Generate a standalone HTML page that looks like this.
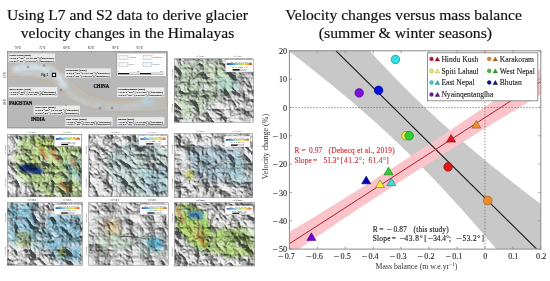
<!DOCTYPE html>
<html><head><meta charset="utf-8"><title>Glacier velocity changes</title>
<style>
html,body{margin:0;padding:0;background:#fff;}
body{width:550px;height:281px;overflow:hidden;}
svg{display:block;}
text{font-family:"Liberation Serif","Times New Roman",serif;}
.tt{font-size:15.6px;fill:#111;stroke:#111;stroke-width:0.18px;}
.tk{font-size:8.2px;fill:#2a2a2a;stroke:#2a2a2a;stroke-width:0.12px;}
.lg{font-size:7.6px;fill:#222;stroke:#222;stroke-width:0.12px;}
.an{font-size:7.4px;}
</style></head><body>
<svg width="550" height="281" viewBox="0 0 550 281">
<rect width="550" height="281" fill="#fff"/>
<text class="tt" x="127.5" y="19.5" text-anchor="middle" textLength="241" lengthAdjust="spacingAndGlyphs">Using L7 and S2 data to derive glacier</text>
<text class="tt" x="127.5" y="38.4" text-anchor="middle" textLength="213.5" lengthAdjust="spacingAndGlyphs">velocity changes in the Himalayas</text>
<text class="tt" x="403.6" y="20.2" text-anchor="middle" textLength="236.8" lengthAdjust="spacingAndGlyphs">Velocity changes versus mass balance</text>
<text class="tt" x="405.4" y="38.2" text-anchor="middle" textLength="173.2" lengthAdjust="spacingAndGlyphs">(summer &amp; winter seasons)</text>
<defs>
<filter id="pt0" x="-20%" y="-20%" width="140%" height="140%" color-interpolation-filters="sRGB">
<feTurbulence type="fractalNoise" baseFrequency="0.12" numOctaves="3" seed="3" result="t"/>
<feComponentTransfer in="t" result="m"><feFuncA type="table" tableValues="0 0.2 0.8 1 1 1"/></feComponentTransfer>
<feGaussianBlur in="SourceGraphic" stdDeviation="2.2" result="b"/>
<feComposite in="b" in2="m" operator="in"/>
</filter>
<filter id="pt1" x="-20%" y="-20%" width="140%" height="140%" color-interpolation-filters="sRGB">
<feTurbulence type="fractalNoise" baseFrequency="0.12" numOctaves="3" seed="8" result="t"/>
<feComponentTransfer in="t" result="m"><feFuncA type="table" tableValues="0 0.2 0.8 1 1 1"/></feComponentTransfer>
<feGaussianBlur in="SourceGraphic" stdDeviation="2.2" result="b"/>
<feComposite in="b" in2="m" operator="in"/>
</filter>
<filter id="pt2" x="-20%" y="-20%" width="140%" height="140%" color-interpolation-filters="sRGB">
<feTurbulence type="fractalNoise" baseFrequency="0.12" numOctaves="3" seed="14" result="t"/>
<feComponentTransfer in="t" result="m"><feFuncA type="table" tableValues="0 0.2 0.8 1 1 1"/></feComponentTransfer>
<feGaussianBlur in="SourceGraphic" stdDeviation="2.2" result="b"/>
<feComposite in="b" in2="m" operator="in"/>
</filter>
<filter id="pt3" x="-20%" y="-20%" width="140%" height="140%" color-interpolation-filters="sRGB">
<feTurbulence type="fractalNoise" baseFrequency="0.12" numOctaves="3" seed="21" result="t"/>
<feComponentTransfer in="t" result="m"><feFuncA type="table" tableValues="0 0.2 0.8 1 1 1"/></feComponentTransfer>
<feGaussianBlur in="SourceGraphic" stdDeviation="2.2" result="b"/>
<feComposite in="b" in2="m" operator="in"/>
</filter>
<filter id="bl1" x="-30%" y="-30%" width="160%" height="160%"><feGaussianBlur stdDeviation="1.6"/></filter>
<filter id="bl2" x="-30%" y="-30%" width="160%" height="160%"><feGaussianBlur stdDeviation="0.8"/></filter>
<linearGradient id="cbar" x1="0" x2="1" y1="0" y2="0"><stop offset="0" stop-color="#1f3f9f"/><stop offset="0.22" stop-color="#3a8fd0"/><stop offset="0.4" stop-color="#8fd0d0"/><stop offset="0.55" stop-color="#a8d860"/><stop offset="0.72" stop-color="#f0e040"/><stop offset="0.86" stop-color="#f09030"/><stop offset="1" stop-color="#d03020"/></linearGradient>
<filter id="hs1" x="0" y="0" width="1" height="1" color-interpolation-filters="sRGB">
<feTurbulence type="turbulence" baseFrequency="0.055" numOctaves="5" seed="11" result="n"/>
<feTurbulence type="turbulence" baseFrequency="0.0220" numOctaves="3" seed="111" result="nb"/>
<feComposite in="n" in2="nb" operator="arithmetic" k1="0" k2="0.55" k3="0.6" k4="0" result="nm"/>
<feComponentTransfer in="nm" result="n2"><feFuncA type="table" tableValues="1 0"/></feComponentTransfer>
<feDiffuseLighting in="n2" surfaceScale="7" diffuseConstant="1" lighting-color="#fff"><feDistantLight azimuth="315" elevation="38"/></feDiffuseLighting>
<feConvolveMatrix order="3" kernelMatrix="0 -0.35 0 -0.35 2.4 -0.35 0 -0.35 0" divisor="1" edgeMode="duplicate" preserveAlpha="true"/>
<feComponentTransfer><feFuncR type="gamma" amplitude="0.66" exponent="0.8" offset="0.3"/><feFuncG type="gamma" amplitude="0.66" exponent="0.8" offset="0.3"/><feFuncB type="gamma" amplitude="0.66" exponent="0.8" offset="0.3"/></feComponentTransfer>
</filter>
<clipPath id="cp1"><rect x="174.2" y="58.8" width="79.40" height="63.50"/></clipPath>
<filter id="hs2" x="0" y="0" width="1" height="1" color-interpolation-filters="sRGB">
<feTurbulence type="turbulence" baseFrequency="0.055" numOctaves="5" seed="23" result="n"/>
<feTurbulence type="turbulence" baseFrequency="0.0220" numOctaves="3" seed="123" result="nb"/>
<feComposite in="n" in2="nb" operator="arithmetic" k1="0" k2="0.55" k3="0.6" k4="0" result="nm"/>
<feComponentTransfer in="nm" result="n2"><feFuncA type="table" tableValues="1 0"/></feComponentTransfer>
<feDiffuseLighting in="n2" surfaceScale="7" diffuseConstant="1" lighting-color="#fff"><feDistantLight azimuth="315" elevation="38"/></feDiffuseLighting>
<feConvolveMatrix order="3" kernelMatrix="0 -0.35 0 -0.35 2.4 -0.35 0 -0.35 0" divisor="1" edgeMode="duplicate" preserveAlpha="true"/>
<feComponentTransfer><feFuncR type="gamma" amplitude="0.66" exponent="0.8" offset="0.3"/><feFuncG type="gamma" amplitude="0.66" exponent="0.8" offset="0.3"/><feFuncB type="gamma" amplitude="0.66" exponent="0.8" offset="0.3"/></feComponentTransfer>
</filter>
<clipPath id="cp2"><rect x="7.5" y="134.2" width="74.30" height="62.70"/></clipPath>
<filter id="hs3" x="0" y="0" width="1" height="1" color-interpolation-filters="sRGB">
<feTurbulence type="turbulence" baseFrequency="0.055" numOctaves="5" seed="37" result="n"/>
<feTurbulence type="turbulence" baseFrequency="0.0220" numOctaves="3" seed="137" result="nb"/>
<feComposite in="n" in2="nb" operator="arithmetic" k1="0" k2="0.55" k3="0.6" k4="0" result="nm"/>
<feComponentTransfer in="nm" result="n2"><feFuncA type="table" tableValues="1 0"/></feComponentTransfer>
<feDiffuseLighting in="n2" surfaceScale="7" diffuseConstant="1" lighting-color="#fff"><feDistantLight azimuth="315" elevation="38"/></feDiffuseLighting>
<feConvolveMatrix order="3" kernelMatrix="0 -0.35 0 -0.35 2.4 -0.35 0 -0.35 0" divisor="1" edgeMode="duplicate" preserveAlpha="true"/>
<feComponentTransfer><feFuncR type="gamma" amplitude="0.66" exponent="0.8" offset="0.3"/><feFuncG type="gamma" amplitude="0.66" exponent="0.8" offset="0.3"/><feFuncB type="gamma" amplitude="0.66" exponent="0.8" offset="0.3"/></feComponentTransfer>
</filter>
<clipPath id="cp3"><rect x="88.8" y="134.8" width="79.20" height="62.00"/></clipPath>
<filter id="hs4" x="0" y="0" width="1" height="1" color-interpolation-filters="sRGB">
<feTurbulence type="turbulence" baseFrequency="0.055" numOctaves="5" seed="41" result="n"/>
<feTurbulence type="turbulence" baseFrequency="0.0220" numOctaves="3" seed="141" result="nb"/>
<feComposite in="n" in2="nb" operator="arithmetic" k1="0" k2="0.55" k3="0.6" k4="0" result="nm"/>
<feComponentTransfer in="nm" result="n2"><feFuncA type="table" tableValues="1 0"/></feComponentTransfer>
<feDiffuseLighting in="n2" surfaceScale="7" diffuseConstant="1" lighting-color="#fff"><feDistantLight azimuth="315" elevation="38"/></feDiffuseLighting>
<feConvolveMatrix order="3" kernelMatrix="0 -0.35 0 -0.35 2.4 -0.35 0 -0.35 0" divisor="1" edgeMode="duplicate" preserveAlpha="true"/>
<feComponentTransfer><feFuncR type="gamma" amplitude="0.66" exponent="0.8" offset="0.3"/><feFuncG type="gamma" amplitude="0.66" exponent="0.8" offset="0.3"/><feFuncB type="gamma" amplitude="0.66" exponent="0.8" offset="0.3"/></feComponentTransfer>
</filter>
<clipPath id="cp4"><rect x="174.4" y="133.6" width="78.40" height="64.20"/></clipPath>
<filter id="hs5" x="0" y="0" width="1" height="1" color-interpolation-filters="sRGB">
<feTurbulence type="turbulence" baseFrequency="0.055" numOctaves="5" seed="53" result="n"/>
<feTurbulence type="turbulence" baseFrequency="0.0220" numOctaves="3" seed="153" result="nb"/>
<feComposite in="n" in2="nb" operator="arithmetic" k1="0" k2="0.55" k3="0.6" k4="0" result="nm"/>
<feComponentTransfer in="nm" result="n2"><feFuncA type="table" tableValues="1 0"/></feComponentTransfer>
<feDiffuseLighting in="n2" surfaceScale="7" diffuseConstant="1" lighting-color="#fff"><feDistantLight azimuth="315" elevation="38"/></feDiffuseLighting>
<feConvolveMatrix order="3" kernelMatrix="0 -0.35 0 -0.35 2.4 -0.35 0 -0.35 0" divisor="1" edgeMode="duplicate" preserveAlpha="true"/>
<feComponentTransfer><feFuncR type="gamma" amplitude="0.66" exponent="0.8" offset="0.3"/><feFuncG type="gamma" amplitude="0.66" exponent="0.8" offset="0.3"/><feFuncB type="gamma" amplitude="0.66" exponent="0.8" offset="0.3"/></feComponentTransfer>
</filter>
<clipPath id="cp5"><rect x="7.2" y="202.6" width="75.20" height="62.60"/></clipPath>
<filter id="hs6" x="0" y="0" width="1" height="1" color-interpolation-filters="sRGB">
<feTurbulence type="turbulence" baseFrequency="0.045" numOctaves="5" seed="67" result="n"/>
<feTurbulence type="turbulence" baseFrequency="0.0180" numOctaves="3" seed="167" result="nb"/>
<feComposite in="n" in2="nb" operator="arithmetic" k1="0" k2="0.55" k3="0.6" k4="0" result="nm"/>
<feComponentTransfer in="nm" result="n2"><feFuncA type="table" tableValues="1 0"/></feComponentTransfer>
<feDiffuseLighting in="n2" surfaceScale="6" diffuseConstant="1" lighting-color="#fff"><feDistantLight azimuth="315" elevation="38"/></feDiffuseLighting>
<feConvolveMatrix order="3" kernelMatrix="0 -0.35 0 -0.35 2.4 -0.35 0 -0.35 0" divisor="1" edgeMode="duplicate" preserveAlpha="true"/>
<feComponentTransfer><feFuncR type="gamma" amplitude="0.7" exponent="0.8" offset="0.28"/><feFuncG type="gamma" amplitude="0.7" exponent="0.8" offset="0.28"/><feFuncB type="gamma" amplitude="0.7" exponent="0.8" offset="0.28"/></feComponentTransfer>
</filter>
<clipPath id="cp6"><rect x="88.8" y="202.6" width="79.40" height="62.60"/></clipPath>
<filter id="hs7" x="0" y="0" width="1" height="1" color-interpolation-filters="sRGB">
<feTurbulence type="turbulence" baseFrequency="0.055" numOctaves="5" seed="79" result="n"/>
<feTurbulence type="turbulence" baseFrequency="0.0220" numOctaves="3" seed="179" result="nb"/>
<feComposite in="n" in2="nb" operator="arithmetic" k1="0" k2="0.55" k3="0.6" k4="0" result="nm"/>
<feComponentTransfer in="nm" result="n2"><feFuncA type="table" tableValues="1 0"/></feComponentTransfer>
<feDiffuseLighting in="n2" surfaceScale="7" diffuseConstant="1" lighting-color="#fff"><feDistantLight azimuth="315" elevation="38"/></feDiffuseLighting>
<feConvolveMatrix order="3" kernelMatrix="0 -0.35 0 -0.35 2.4 -0.35 0 -0.35 0" divisor="1" edgeMode="duplicate" preserveAlpha="true"/>
<feComponentTransfer><feFuncR type="gamma" amplitude="0.66" exponent="0.8" offset="0.3"/><feFuncG type="gamma" amplitude="0.66" exponent="0.8" offset="0.3"/><feFuncB type="gamma" amplitude="0.66" exponent="0.8" offset="0.3"/></feComponentTransfer>
</filter>
<clipPath id="cp7"><rect x="174.6" y="202.6" width="80.00" height="63.40"/></clipPath>
<clipPath id="cp0"><rect x="7.5" y="51.6" width="159.70" height="76.40"/></clipPath>
</defs>
<g clip-path="url(#cp0)">
<rect x="7.5" y="51.6" width="159.70" height="76.40" fill="#b8b8b8"/>
<polygon points="8,62 30,59 50,63 62,71 75,84 90,95 110,100 135,100 150,96 168,94 168,110 150,112 130,112 110,112 90,108 72,100 62,92 50,82 30,77 8,77" fill="#c2beb4" opacity="0.7" filter="url(#bl1)"/>
<polyline points="8,62 30,59 50,63 62,71 75,84 90,95 110,100 135,100 150,96 168,94" fill="none" stroke="#d89a60" stroke-width="0.6" stroke-dasharray="1.2 0.8" opacity="0.9"/>
<polyline points="168,110 150,112 130,112 110,112 90,108 72,100 62,92 50,82 30,77 8,77" fill="none" stroke="#d89a60" stroke-width="0.6" stroke-dasharray="1.2 0.8" opacity="0.9"/>
<path d="M12,70 C28,65 42,67 52,71 C58,74 62,80 65,88" stroke="#d8e8f4" stroke-width="6" fill="none" filter="url(#pt1)" opacity="1"/>
<path d="M20,74 C32,72 44,74 54,78" stroke="#c8dcea" stroke-width="3" fill="none" filter="url(#pt2)" opacity="0.9"/>
<path d="M66,92 C78,101 92,106 110,107 C125,108 135,106 150,103" stroke="#c8d8e4" stroke-width="2.5" fill="none" filter="url(#pt2)" opacity="0.9"/>
<polygon points="28,65.7 29.1,67.7 26.9,67.7" fill="none" stroke="#333" stroke-width="0.35"/>
<polygon points="44,64.2 45.1,66.2 42.9,66.2" fill="none" stroke="#333" stroke-width="0.35"/>
<polygon points="61,88.7 62.1,90.7 59.9,90.7" fill="none" stroke="#333" stroke-width="0.35"/>
<polygon points="66,104.7 67.1,106.7 64.9,106.7" fill="none" stroke="#333" stroke-width="0.35"/>
<polygon points="100,106.7 101.1,108.7 98.9,108.7" fill="none" stroke="#333" stroke-width="0.35"/>
<polygon points="112,106.7 113.1,108.7 110.9,108.7" fill="none" stroke="#333" stroke-width="0.35"/>
<polygon points="150,98.7 151.1,100.7 148.9,100.7" fill="none" stroke="#333" stroke-width="0.35"/>
<ellipse cx="148" cy="101" rx="6" ry="5" fill="#b8d0e0" opacity="0.9" transform="rotate(0 148 101)" filter="url(#pt3)"/>
<rect x="52.4" y="73.3" width="3.2" height="3.2" fill="#fff" stroke="#0a0a0a" stroke-width="1.1"/>
<text x="41.2" y="76.4" font-size="3" fill="#222" stroke="#222" stroke-width="0.1">Fig. 2</text>
<rect x="8.5" y="53.4" width="46.5" height="9.0" fill="#ececec" opacity="0.95"/>
<text x="9.3" y="56.1" font-size="2.8" fill="#111" stroke="#111" stroke-width="0.12">Hindu Kush (2000)</text>
<text x="9.3" y="58.9" font-size="2.6" fill="#111" stroke="#111" stroke-width="0.1" textLength="44.5" lengthAdjust="spacingAndGlyphs">+3.4 m a⁻¹ dec⁻¹ (+3.7% dec⁻¹) (“size-mask”)</text>
<text x="9.3" y="61.6" font-size="2.6" fill="#111" stroke="#111" stroke-width="0.1" textLength="44.5" lengthAdjust="spacingAndGlyphs">+3.4 m a⁻¹ dec⁻¹ (+3.6% dec⁻¹) (“debris-cover”)</text>
<rect x="64.8" y="68.4" width="46.0" height="9.2" fill="#ececec" opacity="0.95"/>
<text x="65.6" y="71.1" font-size="2.8" fill="#111" stroke="#111" stroke-width="0.12">Karakoram (2002)</text>
<text x="65.6" y="73.9" font-size="2.6" fill="#111" stroke="#111" stroke-width="0.1" textLength="44.0" lengthAdjust="spacingAndGlyphs">+3.4 m a⁻¹ dec⁻¹ (+3.7% dec⁻¹) (“size-mask”)</text>
<text x="65.6" y="76.6" font-size="2.6" fill="#111" stroke="#111" stroke-width="0.1" textLength="44.0" lengthAdjust="spacingAndGlyphs">+3.4 m a⁻¹ dec⁻¹ (+3.6% dec⁻¹) (“debris-cover”)</text>
<rect x="8.5" y="87.0" width="48.9" height="10.4" fill="#ececec" opacity="0.95"/>
<text x="9.3" y="89.7" font-size="2.8" fill="#111" stroke="#111" stroke-width="0.12">Spiti Lahaul (1994)</text>
<text x="9.3" y="92.5" font-size="2.6" fill="#111" stroke="#111" stroke-width="0.1" textLength="46.9" lengthAdjust="spacingAndGlyphs">+3.4 m a⁻¹ dec⁻¹ (+3.7% dec⁻¹) (“size-mask”)</text>
<text x="9.3" y="95.2" font-size="2.6" fill="#111" stroke="#111" stroke-width="0.1" textLength="46.9" lengthAdjust="spacingAndGlyphs">+3.4 m a⁻¹ dec⁻¹ (+3.6% dec⁻¹) (“debris-cover”)</text>
<rect x="117.2" y="87.4" width="47.2" height="9.8" fill="#ececec" opacity="0.95"/>
<text x="118.0" y="90.1" font-size="2.8" fill="#111" stroke="#111" stroke-width="0.12">Nyainqentanglha (2003)</text>
<text x="118.0" y="92.9" font-size="2.6" fill="#111" stroke="#111" stroke-width="0.1" textLength="45.2" lengthAdjust="spacingAndGlyphs">+3.4 m a⁻¹ dec⁻¹ (+3.7% dec⁻¹) (“size-mask”)</text>
<text x="118.0" y="95.6" font-size="2.6" fill="#111" stroke="#111" stroke-width="0.1" textLength="45.2" lengthAdjust="spacingAndGlyphs">+3.4 m a⁻¹ dec⁻¹ (+3.6% dec⁻¹) (“debris-cover”)</text>
<rect x="33.6" y="105.6" width="46.4" height="9.0" fill="#ececec" opacity="0.95"/>
<text x="34.4" y="108.3" font-size="2.8" fill="#111" stroke="#111" stroke-width="0.12">West Nepal (2006)</text>
<text x="34.4" y="111.1" font-size="2.6" fill="#111" stroke="#111" stroke-width="0.1" textLength="44.4" lengthAdjust="spacingAndGlyphs">+3.4 m a⁻¹ dec⁻¹ (+3.7% dec⁻¹) (“size-mask”)</text>
<text x="34.4" y="113.8" font-size="2.6" fill="#111" stroke="#111" stroke-width="0.1" textLength="44.4" lengthAdjust="spacingAndGlyphs">+3.4 m a⁻¹ dec⁻¹ (+3.6% dec⁻¹) (“debris-cover”)</text>
<rect x="65.4" y="117.2" width="47.2" height="9.0" fill="#ececec" opacity="0.95"/>
<text x="66.2" y="119.9" font-size="2.8" fill="#111" stroke="#111" stroke-width="0.12">East Nepal (2002)</text>
<text x="66.2" y="122.7" font-size="2.6" fill="#111" stroke="#111" stroke-width="0.1" textLength="45.2" lengthAdjust="spacingAndGlyphs">+3.4 m a⁻¹ dec⁻¹ (+3.7% dec⁻¹) (“size-mask”)</text>
<text x="66.2" y="125.4" font-size="2.6" fill="#111" stroke="#111" stroke-width="0.1" textLength="45.2" lengthAdjust="spacingAndGlyphs">+3.4 m a⁻¹ dec⁻¹ (+3.6% dec⁻¹) (“debris-cover”)</text>
<rect x="117.2" y="117.2" width="47.2" height="8.4" fill="#ececec" opacity="0.95"/>
<text x="118.0" y="119.9" font-size="2.8" fill="#111" stroke="#111" stroke-width="0.12">Bhutan (2003)</text>
<text x="118.0" y="122.7" font-size="2.6" fill="#111" stroke="#111" stroke-width="0.1" textLength="45.2" lengthAdjust="spacingAndGlyphs">+3.4 m a⁻¹ dec⁻¹ (+3.7% dec⁻¹) (“size-mask”)</text>
<text x="118.0" y="125.4" font-size="2.6" fill="#111" stroke="#111" stroke-width="0.1" textLength="45.2" lengthAdjust="spacingAndGlyphs">+3.4 m a⁻¹ dec⁻¹ (+3.6% dec⁻¹) (“debris-cover”)</text>
<text x="93.5" y="88.4" font-size="5.4" font-weight="bold" fill="#000" stroke="#000" stroke-width="0.2" textLength="15.5" lengthAdjust="spacingAndGlyphs">CHINA</text>
<text x="9" y="105.4" font-size="5.4" font-weight="bold" fill="#000" stroke="#000" stroke-width="0.2" textLength="23" lengthAdjust="spacingAndGlyphs">PAKISTAN</text>
<text x="31" y="121" font-size="5.4" font-weight="bold" fill="#000" stroke="#000" stroke-width="0.2" textLength="14" lengthAdjust="spacingAndGlyphs">INDIA</text>
<rect x="116.9" y="53.0" width="49.5" height="23.7" fill="#fdfdfd" stroke="#666" stroke-width="0.4"/>
<rect x="119" y="55.5" width="9" height="4" fill="#f4f4f4" stroke="#bbb" stroke-width="0.5"/>
<text x="129" y="58.3" font-size="2.2" fill="#444">Planned</text>
<rect x="143" y="55.5" width="9" height="4" fill="#f4f4f4" stroke="#d8b080" stroke-width="0.5"/>
<text x="153" y="58.3" font-size="2.2" fill="#444">Subregion</text>
<rect x="119" y="62.5" width="9" height="4" fill="#f4f4f4" stroke="#bbb" stroke-width="0.5"/>
<text x="129" y="65.3" font-size="2.2" fill="#444">River</text>
<rect x="143" y="62.5" width="9" height="4" fill="#f4f4f4" stroke="#9bc" stroke-width="0.5"/>
<text x="153" y="65.3" font-size="2.2" fill="#444">Glacier</text>
<text x="118" y="71.5" font-size="2" fill="#444">0</text><text x="137" y="71.5" font-size="2" fill="#444">km</text><text x="160" y="71.5" font-size="2" fill="#444">500</text>
<rect x="118" y="73" width="11" height="1.4" fill="#111"/><rect x="129" y="73" width="11" height="1.4" fill="#fff" stroke="#333" stroke-width="0.3"/><rect x="140" y="73" width="11" height="1.4" fill="#111"/><rect x="151" y="73" width="12" height="1.4" fill="#fff" stroke="#333" stroke-width="0.3"/>
</g>
<rect x="7.5" y="51.6" width="159.70" height="76.40" fill="none" stroke="#555" stroke-width="0.5"/>
<text x="17.8" y="49.4" font-size="3.3" fill="#222" text-anchor="middle">70°E</text>
<line x1="17.8" y1="51.6" x2="17.8" y2="52.800000000000004" stroke="#555" stroke-width="0.3"/>
<text x="42.2" y="49.4" font-size="3.3" fill="#222" text-anchor="middle">75°E</text>
<line x1="42.2" y1="51.6" x2="42.2" y2="52.800000000000004" stroke="#555" stroke-width="0.3"/>
<text x="66.6" y="49.4" font-size="3.3" fill="#222" text-anchor="middle">80°E</text>
<line x1="66.6" y1="51.6" x2="66.6" y2="52.800000000000004" stroke="#555" stroke-width="0.3"/>
<text x="91.0" y="49.4" font-size="3.3" fill="#222" text-anchor="middle">85°E</text>
<line x1="91.0" y1="51.6" x2="91.0" y2="52.800000000000004" stroke="#555" stroke-width="0.3"/>
<text x="115.4" y="49.4" font-size="3.3" fill="#222" text-anchor="middle">90°E</text>
<line x1="115.4" y1="51.6" x2="115.4" y2="52.800000000000004" stroke="#555" stroke-width="0.3"/>
<text x="139.8" y="49.4" font-size="3.3" fill="#222" text-anchor="middle">95°E</text>
<line x1="139.8" y1="51.6" x2="139.8" y2="52.800000000000004" stroke="#555" stroke-width="0.3"/>
<text transform="translate(5.6,75) rotate(-90)" font-size="3" fill="#333" text-anchor="middle">35°N</text>
<text transform="translate(5.6,102) rotate(-90)" font-size="3" fill="#333" text-anchor="middle">30°N</text>
<g clip-path="url(#cp1)" style="isolation:isolate">
<rect x="174.2" y="58.8" width="79.40" height="63.50" fill="#fff"/>
<polygon points="178,64 200,60 235,62 240,75 232,92 215,100 200,112 185,118 176,112 176,80" fill="#c0e4b0" opacity="0.53" filter="url(#pt0)"/>
<polygon points="215,78 238,76 240,90 222,94" fill="#b0e4e0" opacity="0.57" filter="url(#pt1)"/>
<rect x="174.2" y="58.8" width="79.40" height="63.50" filter="url(#hs1)" style="mix-blend-mode:multiply"/>
</g>
<rect x="174.2" y="58.8" width="79.40" height="63.50" fill="none" stroke="#666" stroke-width="0.4"/>
<rect x="225.2" y="59.6" width="28.4" height="12.4" fill="#fcfcfc" stroke="#888" stroke-width="0.3"/>
<text x="229.2" y="62.6" font-size="2.2" fill="#555" textLength="22.2" lengthAdjust="spacingAndGlyphs">-20 -10  0  10  20  30</text>
<rect x="226.9" y="63.1" width="25.0" height="1.9" fill="url(#cbar)"/>
<text x="232.0" y="67.8" font-size="2" fill="#555" textLength="15.6" lengthAdjust="spacingAndGlyphs">0      5 km      10</text>
<rect x="232.6" y="69.1" width="7.1" height="1.5" fill="#000"/>
<rect x="239.7" y="69.1" width="6.8" height="1.5" fill="#fff" stroke="#444" stroke-width="0.25"/>
<text x="200.4" y="57.2" font-size="2.8" fill="#444" text-anchor="middle">71°30′E</text>
<text x="237.7" y="57.2" font-size="2.8" fill="#444" text-anchor="middle">71°30′E</text>
<text transform="translate(172.8,74.7) rotate(-90)" font-size="2.8" fill="#444" text-anchor="middle">35°30′N</text>
<text transform="translate(172.8,108.3) rotate(-90)" font-size="2.8" fill="#444" text-anchor="middle">35°30′N</text>
<g clip-path="url(#cp2)" style="isolation:isolate">
<rect x="7.5" y="134.2" width="74.30" height="62.70" fill="#fff"/>
<polygon points="20,136 82,135 82,197 48,197 32,186 18,176 14,160" fill="#c4ee84" opacity="0.74" filter="url(#pt0)"/>
<polygon points="30,140 55,138 62,150 40,155" fill="#d8ec70" opacity="0.49" filter="url(#pt1)"/>
<polygon points="64,160 82,158 82,180 66,178" fill="#a8e8e8" opacity="0.66" filter="url(#pt2)"/>
<polygon points="19,166 29,163.5 43,169.5 42,174 30,173 20,171" fill="#1c4cc0" opacity="0.95" filter="url(#bl2)"/>
<line x1="40" y1="149" x2="47" y2="158" stroke="#e05a30" stroke-width="2.2" stroke-linecap="round" opacity="0.85" filter="url(#bl2)"/>
<line x1="51" y1="151" x2="58" y2="160" stroke="#e05030" stroke-width="2.2" stroke-linecap="round" opacity="0.85" filter="url(#bl2)"/>
<line x1="60" y1="183" x2="70" y2="191" stroke="#d84028" stroke-width="2.4" stroke-linecap="round" opacity="0.85" filter="url(#bl2)"/>
<line x1="70" y1="159" x2="77" y2="167" stroke="#e06a38" stroke-width="2.0" stroke-linecap="round" opacity="0.85" filter="url(#bl2)"/>
<line x1="33" y1="156" x2="37" y2="162" stroke="#e0a040" stroke-width="1.6" stroke-linecap="round" opacity="0.7" filter="url(#bl2)"/>
<rect x="7.5" y="134.2" width="74.30" height="62.70" filter="url(#hs2)" style="mix-blend-mode:multiply"/>
</g>
<rect x="7.5" y="134.2" width="74.30" height="62.70" fill="none" stroke="#666" stroke-width="0.4"/>
<rect x="54.2" y="134.9" width="27.2" height="11.5" fill="#fcfcfc" stroke="#888" stroke-width="0.3"/>
<text x="58.0" y="137.7" font-size="2.2" fill="#555" textLength="21.2" lengthAdjust="spacingAndGlyphs">-20 -10  0  10  20  30</text>
<rect x="55.8" y="138.1" width="23.9" height="1.7" fill="url(#cbar)"/>
<text x="60.7" y="142.5" font-size="2" fill="#555" textLength="15.0" lengthAdjust="spacingAndGlyphs">0      5 km      10</text>
<rect x="61.3" y="143.8" width="6.8" height="1.4" fill="#000"/>
<rect x="68.1" y="143.8" width="6.5" height="1.4" fill="#fff" stroke="#444" stroke-width="0.25"/>
<text x="32.0" y="132.6" font-size="2.8" fill="#444" text-anchor="middle">71°30′E</text>
<text x="32.0" y="200.3" font-size="2.8" fill="#444" text-anchor="middle">71°30′E</text>
<text x="66.9" y="132.6" font-size="2.8" fill="#444" text-anchor="middle">71°30′E</text>
<text x="66.9" y="200.3" font-size="2.8" fill="#444" text-anchor="middle">71°30′E</text>
<text transform="translate(6.1,149.9) rotate(-90)" font-size="2.8" fill="#444" text-anchor="middle">35°30′N</text>
<text transform="translate(6.1,183.1) rotate(-90)" font-size="2.8" fill="#444" text-anchor="middle">35°30′N</text>
<g clip-path="url(#cp3)" style="isolation:isolate">
<rect x="88.8" y="134.8" width="79.20" height="62.00" fill="#fff"/>
<polygon points="110,150 140,140 168,145 168,197 140,197 118,185 105,170" fill="#bce6de" opacity="0.58" filter="url(#pt0)"/>
<polygon points="140,170 168,165 168,197 145,197" fill="#a8d8f0" opacity="0.49" filter="url(#pt1)"/>
<rect x="88.8" y="134.8" width="79.20" height="62.00" filter="url(#hs3)" style="mix-blend-mode:multiply"/>
</g>
<rect x="88.8" y="134.8" width="79.20" height="62.00" fill="none" stroke="#666" stroke-width="0.4"/>
<rect x="138.6" y="135.4" width="28.8" height="10.2" fill="#fcfcfc" stroke="#888" stroke-width="0.3"/>
<text x="142.6" y="137.8" font-size="2.2" fill="#555" textLength="22.5" lengthAdjust="spacingAndGlyphs">-20 -10  0  10  20  30</text>
<rect x="140.3" y="138.3" width="25.3" height="1.5" fill="url(#cbar)"/>
<text x="145.5" y="142.1" font-size="2" fill="#555" textLength="15.8" lengthAdjust="spacingAndGlyphs">0      5 km      10</text>
<rect x="146.1" y="143.3" width="7.2" height="1.2" fill="#000"/>
<rect x="153.3" y="143.3" width="6.9" height="1.2" fill="#fff" stroke="#444" stroke-width="0.25"/>
<text x="114.9" y="133.2" font-size="2.8" fill="#444" text-anchor="middle">71°30′E</text>
<text x="114.9" y="200.2" font-size="2.8" fill="#444" text-anchor="middle">71°30′E</text>
<text x="152.2" y="133.2" font-size="2.8" fill="#444" text-anchor="middle">71°30′E</text>
<text x="152.2" y="200.2" font-size="2.8" fill="#444" text-anchor="middle">71°30′E</text>
<text transform="translate(87.4,150.3) rotate(-90)" font-size="2.8" fill="#444" text-anchor="middle">35°30′N</text>
<text transform="translate(87.4,183.2) rotate(-90)" font-size="2.8" fill="#444" text-anchor="middle">35°30′N</text>
<g clip-path="url(#cp4)" style="isolation:isolate">
<rect x="174.4" y="133.6" width="78.40" height="64.20" fill="#fff"/>
<polygon points="186,150 215,146 240,150 245,168 235,182 210,182 190,176" fill="#a4d4f0" opacity="0.6" filter="url(#pt0)"/>
<polygon points="226,160 250,158 250,185 232,186" fill="#a8e0e8" opacity="0.49" filter="url(#pt1)"/>
<polygon points="185,170 194,170 195,179 186,179" fill="#e8e878" opacity="0.8" filter="url(#bl2)"/>
<rect x="174.4" y="133.6" width="78.40" height="64.20" filter="url(#hs4)" style="mix-blend-mode:multiply"/>
</g>
<rect x="174.4" y="133.6" width="78.40" height="64.20" fill="none" stroke="#666" stroke-width="0.4"/>
<rect x="224.2" y="136.0" width="26.2" height="11.0" fill="#fcfcfc" stroke="#888" stroke-width="0.3"/>
<text x="227.9" y="138.6" font-size="2.2" fill="#555" textLength="20.4" lengthAdjust="spacingAndGlyphs">-20 -10  0  10  20  30</text>
<rect x="225.8" y="139.1" width="23.1" height="1.6" fill="url(#cbar)"/>
<text x="230.5" y="143.3" font-size="2" fill="#555" textLength="14.4" lengthAdjust="spacingAndGlyphs">0      5 km      10</text>
<rect x="231.0" y="144.5" width="6.6" height="1.3" fill="#000"/>
<rect x="237.6" y="144.5" width="6.3" height="1.3" fill="#fff" stroke="#444" stroke-width="0.25"/>
<text x="200.3" y="132.0" font-size="2.8" fill="#444" text-anchor="middle">71°30′E</text>
<text x="200.3" y="201.2" font-size="2.8" fill="#444" text-anchor="middle">71°30′E</text>
<text x="237.1" y="132.0" font-size="2.8" fill="#444" text-anchor="middle">71°30′E</text>
<text x="237.1" y="201.2" font-size="2.8" fill="#444" text-anchor="middle">71°30′E</text>
<text transform="translate(173.0,149.7) rotate(-90)" font-size="2.8" fill="#444" text-anchor="middle">35°30′N</text>
<text transform="translate(173.0,183.7) rotate(-90)" font-size="2.8" fill="#444" text-anchor="middle">35°30′N</text>
<g clip-path="url(#cp5)" style="isolation:isolate">
<rect x="7.2" y="202.6" width="75.20" height="62.60" fill="#fff"/>
<polygon points="8,203 36,203 38,225 33,242 16,246 8,240" fill="#80cff0" opacity="0.74" filter="url(#pt0)"/>
<polygon points="46,216 80,212 82,262 60,262 48,250 44,232" fill="#80cff0" opacity="0.74" filter="url(#pt1)"/>
<polygon points="30,232 48,226 52,246 36,252" fill="#90d8e8" opacity="0.57" filter="url(#pt2)"/>
<polygon points="14,232 30,232 31,246 16,246" fill="#e0e070" opacity="0.61" filter="url(#pt3)"/>
<polygon points="58,248 66,248 66,257 58,257" fill="#d8e070" opacity="0.7" filter="url(#bl2)"/>
<rect x="7.2" y="202.6" width="75.20" height="62.60" filter="url(#hs5)" style="mix-blend-mode:multiply"/>
</g>
<rect x="7.2" y="202.6" width="75.20" height="62.60" fill="none" stroke="#666" stroke-width="0.4"/>
<rect x="54.0" y="204.4" width="27.2" height="10.4" fill="#fcfcfc" stroke="#888" stroke-width="0.3"/>
<text x="57.8" y="206.9" font-size="2.2" fill="#555" textLength="21.2" lengthAdjust="spacingAndGlyphs">-20 -10  0  10  20  30</text>
<rect x="55.6" y="207.3" width="23.9" height="1.6" fill="url(#cbar)"/>
<text x="60.5" y="211.3" font-size="2" fill="#555" textLength="15.0" lengthAdjust="spacingAndGlyphs">0      5 km      10</text>
<rect x="61.1" y="212.4" width="6.8" height="1.2" fill="#000"/>
<rect x="67.9" y="212.4" width="6.5" height="1.2" fill="#fff" stroke="#444" stroke-width="0.25"/>
<text x="32.0" y="201.0" font-size="2.8" fill="#444" text-anchor="middle">71°30′E</text>
<text x="67.4" y="201.0" font-size="2.8" fill="#444" text-anchor="middle">71°30′E</text>
<text transform="translate(5.8,218.2) rotate(-90)" font-size="2.8" fill="#444" text-anchor="middle">35°30′N</text>
<text transform="translate(5.8,251.4) rotate(-90)" font-size="2.8" fill="#444" text-anchor="middle">35°30′N</text>
<g clip-path="url(#cp6)" style="isolation:isolate">
<rect x="88.8" y="202.6" width="79.40" height="62.60" fill="#fff"/>
<polygon points="100,221 118,219 122,232 108,236" fill="#f8d080" opacity="0.57" filter="url(#pt0)"/>
<polygon points="95,233 125,231 134,240 128,249 100,249" fill="#c0e8c0" opacity="0.49" filter="url(#pt1)"/>
<path d="M121,236.5 Q134,236 146.5,239" stroke="#333" stroke-width="1.2" fill="none" opacity="0.7"/>
<polygon points="146,240 157,237 164,242 161,249 149,249" fill="#50c0f0" opacity="0.9" filter="url(#bl2)"/>
<polygon points="135,236 165,232 168,255 140,255" fill="#b0e8e8" opacity="0.37" filter="url(#pt2)"/>
<rect x="88.8" y="202.6" width="79.40" height="62.60" filter="url(#hs6)" style="mix-blend-mode:multiply"/>
</g>
<rect x="88.8" y="202.6" width="79.40" height="62.60" fill="none" stroke="#666" stroke-width="0.4"/>
<rect x="140.0" y="204.4" width="28.2" height="10.4" fill="#fcfcfc" stroke="#888" stroke-width="0.3"/>
<text x="143.9" y="206.9" font-size="2.2" fill="#555" textLength="22.0" lengthAdjust="spacingAndGlyphs">-20 -10  0  10  20  30</text>
<rect x="141.7" y="207.3" width="24.8" height="1.6" fill="url(#cbar)"/>
<text x="146.8" y="211.3" font-size="2" fill="#555" textLength="15.5" lengthAdjust="spacingAndGlyphs">0      5 km      10</text>
<rect x="147.3" y="212.4" width="7.0" height="1.2" fill="#000"/>
<rect x="154.4" y="212.4" width="6.8" height="1.2" fill="#fff" stroke="#444" stroke-width="0.25"/>
<text x="115.0" y="201.0" font-size="2.8" fill="#444" text-anchor="middle">71°30′E</text>
<text x="152.3" y="201.0" font-size="2.8" fill="#444" text-anchor="middle">71°30′E</text>
<text transform="translate(87.4,218.2) rotate(-90)" font-size="2.8" fill="#444" text-anchor="middle">35°30′N</text>
<text transform="translate(87.4,251.4) rotate(-90)" font-size="2.8" fill="#444" text-anchor="middle">35°30′N</text>
<g clip-path="url(#cp7)" style="isolation:isolate">
<rect x="174.6" y="202.6" width="80.00" height="63.40" fill="#fff"/>
<polygon points="175,204 192,203 206,214 213,232 215,252 200,252 186,240 176,228" fill="#b4ec68" opacity="0.85" filter="url(#pt0)"/>
<polygon points="212,230 242,226 254,236 253,257 228,257 214,252" fill="#bcec70" opacity="0.8" filter="url(#pt1)"/>
<polygon points="180,222 200,226 210,240 196,244" fill="#e8e060" opacity="0.5" filter="url(#pt2)"/>
<polygon points="188,211 203,212 203,219 189,218" fill="#4a98e0" opacity="0.9" filter="url(#bl2)"/>
<line x1="177" y1="208" x2="183" y2="222" stroke="#e06a30" stroke-width="2.6" stroke-linecap="round" opacity="0.8" filter="url(#bl2)"/>
<line x1="198" y1="234" x2="205" y2="246" stroke="#e06a30" stroke-width="2.6" stroke-linecap="round" opacity="0.8" filter="url(#bl2)"/>
<line x1="201" y1="227" x2="206" y2="235" stroke="#f0b040" stroke-width="1.8" stroke-linecap="round" opacity="0.7" filter="url(#bl2)"/>
<rect x="174.6" y="202.6" width="80.00" height="63.40" filter="url(#hs7)" style="mix-blend-mode:multiply"/>
</g>
<rect x="174.6" y="202.6" width="80.00" height="63.40" fill="none" stroke="#666" stroke-width="0.4"/>
<rect x="225.0" y="205.7" width="28.0" height="9.1" fill="#fcfcfc" stroke="#888" stroke-width="0.3"/>
<text x="228.9" y="207.9" font-size="2.2" fill="#555" textLength="21.8" lengthAdjust="spacingAndGlyphs">-20 -10  0  10  20  30</text>
<rect x="226.7" y="208.2" width="24.6" height="1.4" fill="url(#cbar)"/>
<text x="231.7" y="211.7" font-size="2" fill="#555" textLength="15.4" lengthAdjust="spacingAndGlyphs">0      5 km      10</text>
<rect x="232.3" y="212.7" width="7.0" height="1.1" fill="#000"/>
<rect x="239.3" y="212.7" width="6.7" height="1.1" fill="#fff" stroke="#444" stroke-width="0.25"/>
<text x="201.0" y="201.0" font-size="2.8" fill="#444" text-anchor="middle">71°30′E</text>
<text x="238.6" y="201.0" font-size="2.8" fill="#444" text-anchor="middle">71°30′E</text>
<text transform="translate(173.2,218.4) rotate(-90)" font-size="2.8" fill="#444" text-anchor="middle">35°30′N</text>
<text transform="translate(173.2,252.1) rotate(-90)" font-size="2.8" fill="#444" text-anchor="middle">35°30′N</text>
<clipPath id="ax"><rect x="289.4" y="50.8" width="251.39999999999998" height="198.3"/></clipPath>
<g clip-path="url(#ax)">
<polygon points="229.40,-115.35 231.40,-112.88 233.40,-110.41 235.40,-107.94 237.40,-105.47 239.40,-103.00 241.40,-100.53 243.40,-98.07 245.40,-95.61 247.40,-93.14 249.40,-90.69 251.40,-88.23 253.40,-85.77 255.40,-83.32 257.40,-80.87 259.40,-78.42 261.40,-75.97 263.40,-73.52 265.40,-71.08 267.40,-68.64 269.40,-66.20 271.40,-63.77 273.40,-61.33 275.40,-58.90 277.40,-56.47 279.40,-54.05 281.40,-51.62 283.40,-49.20 285.40,-46.79 287.40,-44.37 289.40,-41.96 291.40,-39.55 293.40,-37.15 295.40,-34.75 297.40,-32.35 299.40,-29.95 301.40,-27.56 303.40,-25.18 305.40,-22.79 307.40,-20.41 309.40,-18.04 311.40,-15.67 313.40,-13.30 315.40,-10.94 317.40,-8.58 319.40,-6.23 321.40,-3.88 323.40,-1.54 325.40,0.80 327.40,3.14 329.40,5.46 331.40,7.79 333.40,10.10 335.40,12.41 337.40,14.72 339.40,17.02 341.40,19.31 343.40,21.59 345.40,23.87 347.40,26.14 349.40,28.41 351.40,30.67 353.40,32.92 355.40,35.16 357.40,37.40 359.40,39.63 361.40,41.85 363.40,44.06 365.40,46.26 367.40,48.45 369.40,50.64 371.40,52.82 373.40,54.99 375.40,57.15 377.40,59.30 379.40,61.44 381.40,63.57 383.40,65.69 385.40,67.80 387.40,69.90 389.40,71.99 391.40,74.07 393.40,76.14 395.40,78.20 397.40,80.25 399.40,82.29 401.40,84.32 403.40,86.33 405.40,88.34 407.40,90.33 409.40,92.32 411.40,94.29 413.40,96.26 415.40,98.21 417.40,100.15 419.40,102.08 421.40,104.00 423.40,105.91 425.40,107.81 427.40,109.70 429.40,111.57 431.40,113.44 433.40,115.30 435.40,117.15 437.40,118.98 439.40,120.81 441.40,122.63 443.40,124.43 445.40,126.23 447.40,128.02 449.40,129.80 451.40,131.57 453.40,133.34 455.40,135.09 457.40,136.84 459.40,138.57 461.40,140.30 463.40,142.02 465.40,143.74 467.40,145.44 469.40,147.14 471.40,148.83 473.40,150.51 475.40,152.19 477.40,153.86 479.40,155.53 481.40,157.18 483.40,158.83 485.40,160.48 487.40,162.12 489.40,163.75 491.40,165.38 493.40,167.00 495.40,168.62 497.40,170.23 499.40,171.84 501.40,173.44 503.40,175.04 505.40,176.63 507.40,178.22 509.40,179.80 511.40,181.38 513.40,182.95 515.40,184.53 517.40,186.09 519.40,187.66 521.40,189.22 523.40,190.77 525.40,192.32 527.40,193.87 529.40,195.42 531.40,196.96 533.40,198.50 535.40,200.04 537.40,201.57 539.40,203.10 541.40,204.63 543.40,206.15 545.40,207.68 547.40,209.20 549.40,210.71 551.40,212.23 553.40,213.74 555.40,215.25 557.40,216.76 559.40,218.27 561.40,219.77 563.40,221.27 565.40,222.77 567.40,224.27 569.40,225.76 571.40,227.26 573.40,228.75 575.40,230.24 577.40,231.73 579.40,233.21 581.40,234.70 583.40,236.18 585.40,237.67 587.40,239.15 589.40,240.62 591.40,242.10 593.40,243.58 595.40,245.05 597.40,246.53 599.40,248.00 601.40,249.47 601.40,376.56 599.40,374.08 597.40,371.60 595.40,369.12 593.40,366.64 591.40,364.17 589.40,361.69 587.40,359.22 585.40,356.75 583.40,354.28 581.40,351.81 579.40,349.34 577.40,346.88 575.40,344.41 573.40,341.95 571.40,339.49 569.40,337.03 567.40,334.58 565.40,332.12 563.40,329.67 561.40,327.22 559.40,324.77 557.40,322.33 555.40,319.88 553.40,317.44 551.40,315.00 549.40,312.56 547.40,310.13 545.40,307.70 543.40,305.27 541.40,302.84 539.40,300.42 537.40,298.00 535.40,295.58 533.40,293.16 531.40,290.75 529.40,288.34 527.40,285.93 525.40,283.53 523.40,281.13 521.40,278.73 519.40,276.34 517.40,273.95 515.40,271.57 513.40,269.19 511.40,266.81 509.40,264.44 507.40,262.07 505.40,259.71 503.40,257.35 501.40,254.99 499.40,252.64 497.40,250.30 495.40,247.96 493.40,245.62 491.40,243.29 489.40,240.97 487.40,238.65 485.40,236.34 483.40,234.03 481.40,231.73 479.40,229.43 477.40,227.14 475.40,224.86 473.40,222.59 471.40,220.32 469.40,218.06 467.40,215.81 465.40,213.56 463.40,211.32 461.40,209.09 459.40,206.87 457.40,204.65 455.40,202.44 453.40,200.25 451.40,198.06 449.40,195.88 447.40,193.70 445.40,191.54 443.40,189.39 441.40,187.24 439.40,185.11 437.40,182.98 435.40,180.87 433.40,178.76 431.40,176.67 429.40,174.58 427.40,172.51 425.40,170.45 423.40,168.39 421.40,166.35 419.40,164.32 417.40,162.30 415.40,160.29 413.40,158.29 411.40,156.30 409.40,154.32 407.40,152.35 405.40,150.40 403.40,148.45 401.40,146.52 399.40,144.59 397.40,142.68 395.40,140.77 393.40,138.88 391.40,137.00 389.40,135.13 387.40,133.27 385.40,131.42 383.40,129.58 381.40,127.74 379.40,125.92 377.40,124.11 375.40,122.31 373.40,120.52 371.40,118.73 369.40,116.96 367.40,115.19 365.40,113.43 363.40,111.69 361.40,109.95 359.40,108.21 357.40,106.49 355.40,104.77 353.40,103.06 351.40,101.36 349.40,99.67 347.40,97.98 345.40,96.30 343.40,94.63 341.40,92.96 339.40,91.30 337.40,89.65 335.40,88.00 333.40,86.36 331.40,84.73 329.40,83.10 327.40,81.47 325.40,79.85 323.40,78.24 321.40,76.63 319.40,75.03 317.40,73.43 315.40,71.83 313.40,70.24 311.40,68.66 309.40,67.08 307.40,65.50 305.40,63.93 303.40,62.36 301.40,60.79 299.40,59.23 297.40,57.67 295.40,56.12 293.40,54.57 291.40,53.02 289.40,51.48 287.40,49.94 285.40,48.40 283.40,46.87 281.40,45.33 279.40,43.81 277.40,42.28 275.40,40.76 273.40,39.23 271.40,37.72 269.40,36.20 267.40,34.69 265.40,33.18 263.40,31.67 261.40,30.16 259.40,28.66 257.40,27.15 255.40,25.65 253.40,24.15 251.40,22.66 249.40,21.16 247.40,19.67 245.40,18.18 243.40,16.69 241.40,15.20 239.40,13.72 237.40,12.23 235.40,10.75 233.40,9.27 231.40,7.79 229.40,6.31" fill="#c8c8c8"/>
<polygon points="289.40,232.00 291.40,230.79 293.40,229.58 295.40,228.37 297.40,227.16 299.40,225.94 301.40,224.73 303.40,223.51 305.40,222.30 307.40,221.08 309.40,219.86 311.40,218.64 313.40,217.42 315.40,216.20 317.40,214.97 319.40,213.75 321.40,212.52 323.40,211.29 325.40,210.07 327.40,208.84 329.40,207.60 331.40,206.37 333.40,205.14 335.40,203.90 337.40,202.67 339.40,201.43 341.40,200.19 343.40,198.95 345.40,197.71 347.40,196.46 349.40,195.22 351.40,193.97 353.40,192.72 355.40,191.47 357.40,190.22 359.40,188.97 361.40,187.71 363.40,186.45 365.40,185.20 367.40,183.93 369.40,182.67 371.40,181.41 373.40,180.14 375.40,178.88 377.40,177.61 379.40,176.34 381.40,175.07 383.40,173.79 385.40,172.52 387.40,171.24 389.40,169.96 391.40,168.68 393.40,167.39 395.40,166.11 397.40,164.82 399.40,163.53 401.40,162.24 403.40,160.95 405.40,159.65 407.40,158.36 409.40,157.06 411.40,155.76 413.40,154.46 415.40,153.15 417.40,151.85 419.40,150.54 421.40,149.23 423.40,147.92 425.40,146.61 427.40,145.29 429.40,143.98 431.40,142.66 433.40,141.34 435.40,140.02 437.40,138.70 439.40,137.37 441.40,136.04 443.40,134.72 445.40,133.39 447.40,132.06 449.40,130.72 451.40,129.39 453.40,128.05 455.40,126.71 457.40,125.38 459.40,124.03 461.40,122.69 463.40,121.35 465.40,120.00 467.40,118.66 469.40,117.31 471.40,115.96 473.40,114.61 475.40,113.26 477.40,111.91 479.40,110.55 481.40,109.20 483.40,107.84 485.40,106.48 487.40,105.13 489.40,103.77 491.40,102.41 493.40,101.04 495.40,99.68 497.40,98.32 499.40,96.95 501.40,95.58 503.40,94.22 505.40,92.85 507.40,91.48 509.40,90.11 511.40,88.74 513.40,87.37 515.40,85.99 517.40,84.62 519.40,83.24 521.40,81.87 523.40,80.49 525.40,79.12 527.40,77.74 529.40,76.36 531.40,74.98 533.40,73.60 535.40,72.22 537.40,70.84 539.40,69.46 540.80,68.49 540.80,94.66 539.40,95.50 537.40,96.70 535.40,97.90 533.40,99.10 531.40,100.30 529.40,101.50 527.40,102.70 525.40,103.90 523.40,105.11 521.40,106.31 519.40,107.52 517.40,108.72 515.40,109.93 513.40,111.14 511.40,112.35 509.40,113.56 507.40,114.77 505.40,115.98 503.40,117.19 501.40,118.41 499.40,119.62 497.40,120.84 495.40,122.05 493.40,123.27 491.40,124.49 489.40,125.71 487.40,126.93 485.40,128.15 483.40,129.37 481.40,130.60 479.40,131.82 477.40,133.05 475.40,134.28 473.40,135.51 471.40,136.74 469.40,137.97 467.40,139.20 465.40,140.44 463.40,141.68 461.40,142.91 459.40,144.15 457.40,145.39 455.40,146.63 453.40,147.88 451.40,149.12 449.40,150.37 447.40,151.62 445.40,152.87 443.40,154.12 441.40,155.37 439.40,156.62 437.40,157.88 435.40,159.14 433.40,160.40 431.40,161.66 429.40,162.92 427.40,164.19 425.40,165.45 423.40,166.72 421.40,167.99 419.40,169.26 417.40,170.54 415.40,171.81 413.40,173.09 411.40,174.37 409.40,175.65 407.40,176.93 405.40,178.21 403.40,179.50 401.40,180.79 399.40,182.08 397.40,183.37 395.40,184.66 393.40,185.96 391.40,187.26 389.40,188.56 387.40,189.86 385.40,191.16 383.40,192.47 381.40,193.77 379.40,195.08 377.40,196.39 375.40,197.70 373.40,199.02 371.40,200.33 369.40,201.65 367.40,202.97 365.40,204.29 363.40,205.61 361.40,206.94 359.40,208.26 357.40,209.59 355.40,210.92 353.40,212.25 351.40,213.58 349.40,214.91 347.40,216.25 345.40,217.59 343.40,218.93 341.40,220.27 339.40,221.61 337.40,222.95 335.40,224.29 333.40,225.64 331.40,226.99 329.40,228.33 327.40,229.68 325.40,231.03 323.40,232.39 321.40,233.74 319.40,235.10 317.40,236.45 315.40,237.81 313.40,239.17 311.40,240.53 309.40,241.89 307.40,243.25 305.40,244.61 303.40,245.98 301.40,247.34 299.40,248.71 297.40,250.07 295.40,251.44 293.40,252.81 291.40,254.18 289.40,255.55" fill="#fbc4cb"/>
</g>
<line x1="289.4" y1="107.46" x2="540.8" y2="107.46" stroke="#6a6a6a" stroke-width="0.7" stroke-dasharray="1.5 1.5"/>
<line x1="484.93" y1="50.8" x2="484.93" y2="249.1" stroke="#6a6a6a" stroke-width="0.7" stroke-dasharray="1.5 1.5"/>
<line x1="336" y1="50.8" x2="536.5" y2="248.9" stroke="#111" stroke-width="1.05"/>
<line x1="289.4" y1="243.78" x2="540.8" y2="81.57" stroke="#b81a24" stroke-width="1.0"/>
<rect x="289.4" y="50.8" width="251.40" height="198.30" fill="none" stroke="#8a8a8a" stroke-width="1"/>
<line x1="289.40" y1="249.1" x2="289.40" y2="246.6" stroke="#8a8a8a" stroke-width="0.8"/>
<line x1="289.40" y1="50.8" x2="289.40" y2="53.3" stroke="#8a8a8a" stroke-width="0.8"/>
<line x1="317.33" y1="249.1" x2="317.33" y2="246.6" stroke="#8a8a8a" stroke-width="0.8"/>
<line x1="317.33" y1="50.8" x2="317.33" y2="53.3" stroke="#8a8a8a" stroke-width="0.8"/>
<line x1="345.27" y1="249.1" x2="345.27" y2="246.6" stroke="#8a8a8a" stroke-width="0.8"/>
<line x1="345.27" y1="50.8" x2="345.27" y2="53.3" stroke="#8a8a8a" stroke-width="0.8"/>
<line x1="373.20" y1="249.1" x2="373.20" y2="246.6" stroke="#8a8a8a" stroke-width="0.8"/>
<line x1="373.20" y1="50.8" x2="373.20" y2="53.3" stroke="#8a8a8a" stroke-width="0.8"/>
<line x1="401.13" y1="249.1" x2="401.13" y2="246.6" stroke="#8a8a8a" stroke-width="0.8"/>
<line x1="401.13" y1="50.8" x2="401.13" y2="53.3" stroke="#8a8a8a" stroke-width="0.8"/>
<line x1="429.07" y1="249.1" x2="429.07" y2="246.6" stroke="#8a8a8a" stroke-width="0.8"/>
<line x1="429.07" y1="50.8" x2="429.07" y2="53.3" stroke="#8a8a8a" stroke-width="0.8"/>
<line x1="457.00" y1="249.1" x2="457.00" y2="246.6" stroke="#8a8a8a" stroke-width="0.8"/>
<line x1="457.00" y1="50.8" x2="457.00" y2="53.3" stroke="#8a8a8a" stroke-width="0.8"/>
<line x1="484.93" y1="249.1" x2="484.93" y2="246.6" stroke="#8a8a8a" stroke-width="0.8"/>
<line x1="484.93" y1="50.8" x2="484.93" y2="53.3" stroke="#8a8a8a" stroke-width="0.8"/>
<line x1="512.87" y1="249.1" x2="512.87" y2="246.6" stroke="#8a8a8a" stroke-width="0.8"/>
<line x1="512.87" y1="50.8" x2="512.87" y2="53.3" stroke="#8a8a8a" stroke-width="0.8"/>
<line x1="540.80" y1="249.1" x2="540.80" y2="246.6" stroke="#8a8a8a" stroke-width="0.8"/>
<line x1="540.80" y1="50.8" x2="540.80" y2="53.3" stroke="#8a8a8a" stroke-width="0.8"/>
<line x1="289.4" y1="50.80" x2="291.9" y2="50.80" stroke="#8a8a8a" stroke-width="0.8"/>
<line x1="540.8" y1="50.80" x2="538.3" y2="50.80" stroke="#8a8a8a" stroke-width="0.8"/>
<line x1="289.4" y1="79.13" x2="291.9" y2="79.13" stroke="#8a8a8a" stroke-width="0.8"/>
<line x1="540.8" y1="79.13" x2="538.3" y2="79.13" stroke="#8a8a8a" stroke-width="0.8"/>
<line x1="289.4" y1="107.46" x2="291.9" y2="107.46" stroke="#8a8a8a" stroke-width="0.8"/>
<line x1="540.8" y1="107.46" x2="538.3" y2="107.46" stroke="#8a8a8a" stroke-width="0.8"/>
<line x1="289.4" y1="135.79" x2="291.9" y2="135.79" stroke="#8a8a8a" stroke-width="0.8"/>
<line x1="540.8" y1="135.79" x2="538.3" y2="135.79" stroke="#8a8a8a" stroke-width="0.8"/>
<line x1="289.4" y1="164.11" x2="291.9" y2="164.11" stroke="#8a8a8a" stroke-width="0.8"/>
<line x1="540.8" y1="164.11" x2="538.3" y2="164.11" stroke="#8a8a8a" stroke-width="0.8"/>
<line x1="289.4" y1="192.44" x2="291.9" y2="192.44" stroke="#8a8a8a" stroke-width="0.8"/>
<line x1="540.8" y1="192.44" x2="538.3" y2="192.44" stroke="#8a8a8a" stroke-width="0.8"/>
<line x1="289.4" y1="220.77" x2="291.9" y2="220.77" stroke="#8a8a8a" stroke-width="0.8"/>
<line x1="540.8" y1="220.77" x2="538.3" y2="220.77" stroke="#8a8a8a" stroke-width="0.8"/>
<line x1="289.4" y1="249.10" x2="291.9" y2="249.10" stroke="#8a8a8a" stroke-width="0.8"/>
<line x1="540.8" y1="249.10" x2="538.3" y2="249.10" stroke="#8a8a8a" stroke-width="0.8"/>
<circle cx="395.4" cy="59.5" r="4.3" fill="#33e0e0" stroke="#107070" stroke-width="0.6"/>
<circle cx="359.2" cy="92.9" r="4.3" fill="#7a10d8" stroke="#4a0890" stroke-width="0.6"/>
<circle cx="378.6" cy="90.3" r="4.3" fill="#0010e0" stroke="#000080" stroke-width="0.6"/>
<circle cx="406.0" cy="135.7" r="4.3" fill="#f0f040" stroke="#707010" stroke-width="0.6"/>
<circle cx="409.2" cy="135.7" r="4.3" fill="#30d030" stroke="#107010" stroke-width="0.6"/>
<circle cx="448.1" cy="166.9" r="4.3" fill="#e01818" stroke="#800808" stroke-width="0.6"/>
<circle cx="487.8" cy="200.5" r="4.3" fill="#f08c28" stroke="#905010" stroke-width="0.6"/>
<polygon points="476.30,120.50 480.80,128.10 471.80,128.10" fill="#f09030" stroke="#905010" stroke-width="0.6"/>
<polygon points="451.10,134.50 455.60,142.10 446.60,142.10" fill="#e01820" stroke="#800808" stroke-width="0.6"/>
<polygon points="388.50,167.20 393.00,174.80 384.00,174.80" fill="#30d030" stroke="#107010" stroke-width="0.6"/>
<polygon points="366.20,176.20 370.70,183.80 361.70,183.80" fill="#0000b0" stroke="#000060" stroke-width="0.6"/>
<polygon points="380.10,179.90 384.60,187.50 375.60,187.50" fill="#f8f040" stroke="#807010" stroke-width="0.6"/>
<polygon points="391.30,178.00 395.80,185.60 386.80,185.60" fill="#40dcdc" stroke="#107070" stroke-width="0.6"/>
<polygon points="311.40,232.80 315.90,240.40 306.90,240.40" fill="#7000d8" stroke="#40008a" stroke-width="0.6"/>
<text y="259.2" class="tk"><tspan x="277.97" textLength="5.80" lengthAdjust="spacingAndGlyphs">−</tspan><tspan x="284.67">0.7</tspan></text>
<text y="259.2" class="tk"><tspan x="305.91" textLength="5.80" lengthAdjust="spacingAndGlyphs">−</tspan><tspan x="312.61">0.6</tspan></text>
<text y="259.2" class="tk"><tspan x="333.84" textLength="5.80" lengthAdjust="spacingAndGlyphs">−</tspan><tspan x="340.54">0.5</tspan></text>
<text y="259.2" class="tk"><tspan x="361.77" textLength="5.80" lengthAdjust="spacingAndGlyphs">−</tspan><tspan x="368.47">0.4</tspan></text>
<text y="259.2" class="tk"><tspan x="389.71" textLength="5.80" lengthAdjust="spacingAndGlyphs">−</tspan><tspan x="396.41">0.3</tspan></text>
<text y="259.2" class="tk"><tspan x="417.64" textLength="5.80" lengthAdjust="spacingAndGlyphs">−</tspan><tspan x="424.34">0.2</tspan></text>
<text y="259.2" class="tk"><tspan x="445.57" textLength="5.80" lengthAdjust="spacingAndGlyphs">−</tspan><tspan x="452.27">0.1</tspan></text>
<text y="259.2" class="tk"><tspan x="483.28">0</tspan></text>
<text y="259.2" class="tk"><tspan x="508.14">0.1</tspan></text>
<text y="259.2" class="tk"><tspan x="536.07">0.2</tspan></text>
<text y="54.00" class="tk"><tspan x="278.90">20</tspan></text>
<text y="82.33" class="tk"><tspan x="278.90">10</tspan></text>
<text y="110.66" class="tk"><tspan x="283.00">0</tspan></text>
<text y="138.99" class="tk"><tspan x="272.70" textLength="5.40" lengthAdjust="spacingAndGlyphs">−</tspan><tspan x="278.90">10</tspan></text>
<text y="167.31" class="tk"><tspan x="272.70" textLength="5.40" lengthAdjust="spacingAndGlyphs">−</tspan><tspan x="278.90">20</tspan></text>
<text y="195.64" class="tk"><tspan x="272.70" textLength="5.40" lengthAdjust="spacingAndGlyphs">−</tspan><tspan x="278.90">30</tspan></text>
<text y="223.97" class="tk"><tspan x="272.70" textLength="5.40" lengthAdjust="spacingAndGlyphs">−</tspan><tspan x="278.90">40</tspan></text>
<text y="252.30" class="tk"><tspan x="272.70" textLength="5.40" lengthAdjust="spacingAndGlyphs">−</tspan><tspan x="278.90">50</tspan></text>
<rect x="427.6" y="52.8" width="110.2" height="48" fill="#fff" stroke="#777" stroke-width="0.8"/>
<circle cx="431.5" cy="58.9" r="1.9" fill="#c0182c" stroke="#8a1020" stroke-width="0.4"/>
<polygon points="437.40,56.90 439.70,60.90 435.10,60.90" fill="#9a1020" stroke="#8a1020" stroke-width="0.4"/>
<text x="441.4" y="61.5" class="lg">Hindu Kush</text>
<circle cx="489.2" cy="58.9" r="1.9" fill="#e0802c" stroke="#a05818" stroke-width="0.4"/>
<polygon points="495.30,56.90 497.60,60.90 493.00,60.90" fill="#b86018" stroke="#a05818" stroke-width="0.4"/>
<text x="499.8" y="61.5" class="lg">Karakoram</text>
<circle cx="431.5" cy="70.9" r="1.9" fill="#e8e850" stroke="#909020" stroke-width="0.4"/>
<polygon points="437.40,68.90 439.70,72.90 435.10,72.90" fill="#f4f0b0" stroke="#909020" stroke-width="0.4"/>
<text x="441.4" y="73.5" class="lg">Spiti Lahaul</text>
<circle cx="489.2" cy="70.9" r="1.9" fill="#40c040" stroke="#207020" stroke-width="0.4"/>
<polygon points="495.30,68.90 497.60,72.90 493.00,72.90" fill="#30a030" stroke="#207020" stroke-width="0.4"/>
<text x="499.8" y="73.5" class="lg">West Nepal</text>
<circle cx="431.5" cy="82.5" r="1.9" fill="#40d0d0" stroke="#108080" stroke-width="0.4"/>
<polygon points="437.40,80.50 439.70,84.50 435.10,84.50" fill="#30b0b0" stroke="#108080" stroke-width="0.4"/>
<text x="441.4" y="85.1" class="lg">East Nepal</text>
<circle cx="489.2" cy="82.5" r="1.9" fill="#101090" stroke="#000050" stroke-width="0.4"/>
<polygon points="495.30,80.50 497.60,84.50 493.00,84.50" fill="#101080" stroke="#000050" stroke-width="0.4"/>
<text x="499.8" y="85.1" class="lg">Bhutan</text>
<circle cx="431.5" cy="94.5" r="1.9" fill="#7020b0" stroke="#401070" stroke-width="0.4"/>
<polygon points="437.40,92.50 439.70,96.50 435.10,96.50" fill="#6010a0" stroke="#401070" stroke-width="0.4"/>
<text x="441.4" y="97.1" class="lg">Nyainqentanglha</text>
<text y="152.9" class="an" fill="#d83038" stroke="#d83038" stroke-width="0.15"><tspan x="294.4">R</tspan><tspan x="301.5">=</tspan><tspan x="308.9" textLength="13.4" lengthAdjust="spacing">0.97</tspan><tspan x="328.5" textLength="66.1" lengthAdjust="spacing">(Dehecq et al., 2019)</tspan></text>
<text y="162.6" class="an" fill="#d83038" stroke="#d83038" stroke-width="0.15"><tspan x="294.4" textLength="17.4" lengthAdjust="spacing">Slope</tspan><tspan x="313.0">=</tspan><tspan x="323.6">51.3°</tspan><tspan x="340.4">[</tspan><tspan x="344.0" textLength="20.6" lengthAdjust="spacing">41.2°;</tspan><tspan x="368.4" textLength="20.4" lengthAdjust="spacing">61.4°]</tspan></text>
<text y="231.7" class="an" fill="#1e1e1e" stroke="#1e1e1e" stroke-width="0.15"><tspan x="372.7">R</tspan><tspan x="379.2">=</tspan><tspan x="386.2" textLength="5.8" lengthAdjust="spacingAndGlyphs">−</tspan><tspan x="393.4" textLength="13.5" lengthAdjust="spacing">0.87</tspan><tspan x="413.6" textLength="35.0" lengthAdjust="spacing">(this study)</tspan></text>
<text y="241.0" class="an" fill="#1e1e1e" stroke="#1e1e1e" stroke-width="0.15"><tspan x="372.7" textLength="17.8" lengthAdjust="spacing">Slope</tspan><tspan x="391.7">=</tspan><tspan x="399.2" textLength="5.8" lengthAdjust="spacingAndGlyphs">−</tspan><tspan x="404.4" textLength="18.2" lengthAdjust="spacing">43.8°</tspan><tspan x="424.3">[</tspan><tspan x="427.5" textLength="5.8" lengthAdjust="spacingAndGlyphs">−</tspan><tspan x="433.2" textLength="17.8" lengthAdjust="spacing">34.4°;</tspan><tspan x="455.9" textLength="5.8" lengthAdjust="spacingAndGlyphs">−</tspan><tspan x="462.6" textLength="17.6" lengthAdjust="spacing">53.2°</tspan><tspan x="481.6">]</tspan></text>
<text x="375.5" y="268.9" class="an" style="font-size:7.8px" fill="#333">Mass balance (m w.e.yr<tspan dy="-3" font-size="5.2">−1</tspan><tspan dy="3">)</tspan></text>
<text transform="translate(268.2,146.6) rotate(-90)" text-anchor="middle" class="an" style="font-size:8px" fill="#333">Velocity change (%)</text>
</svg>
</body></html>
